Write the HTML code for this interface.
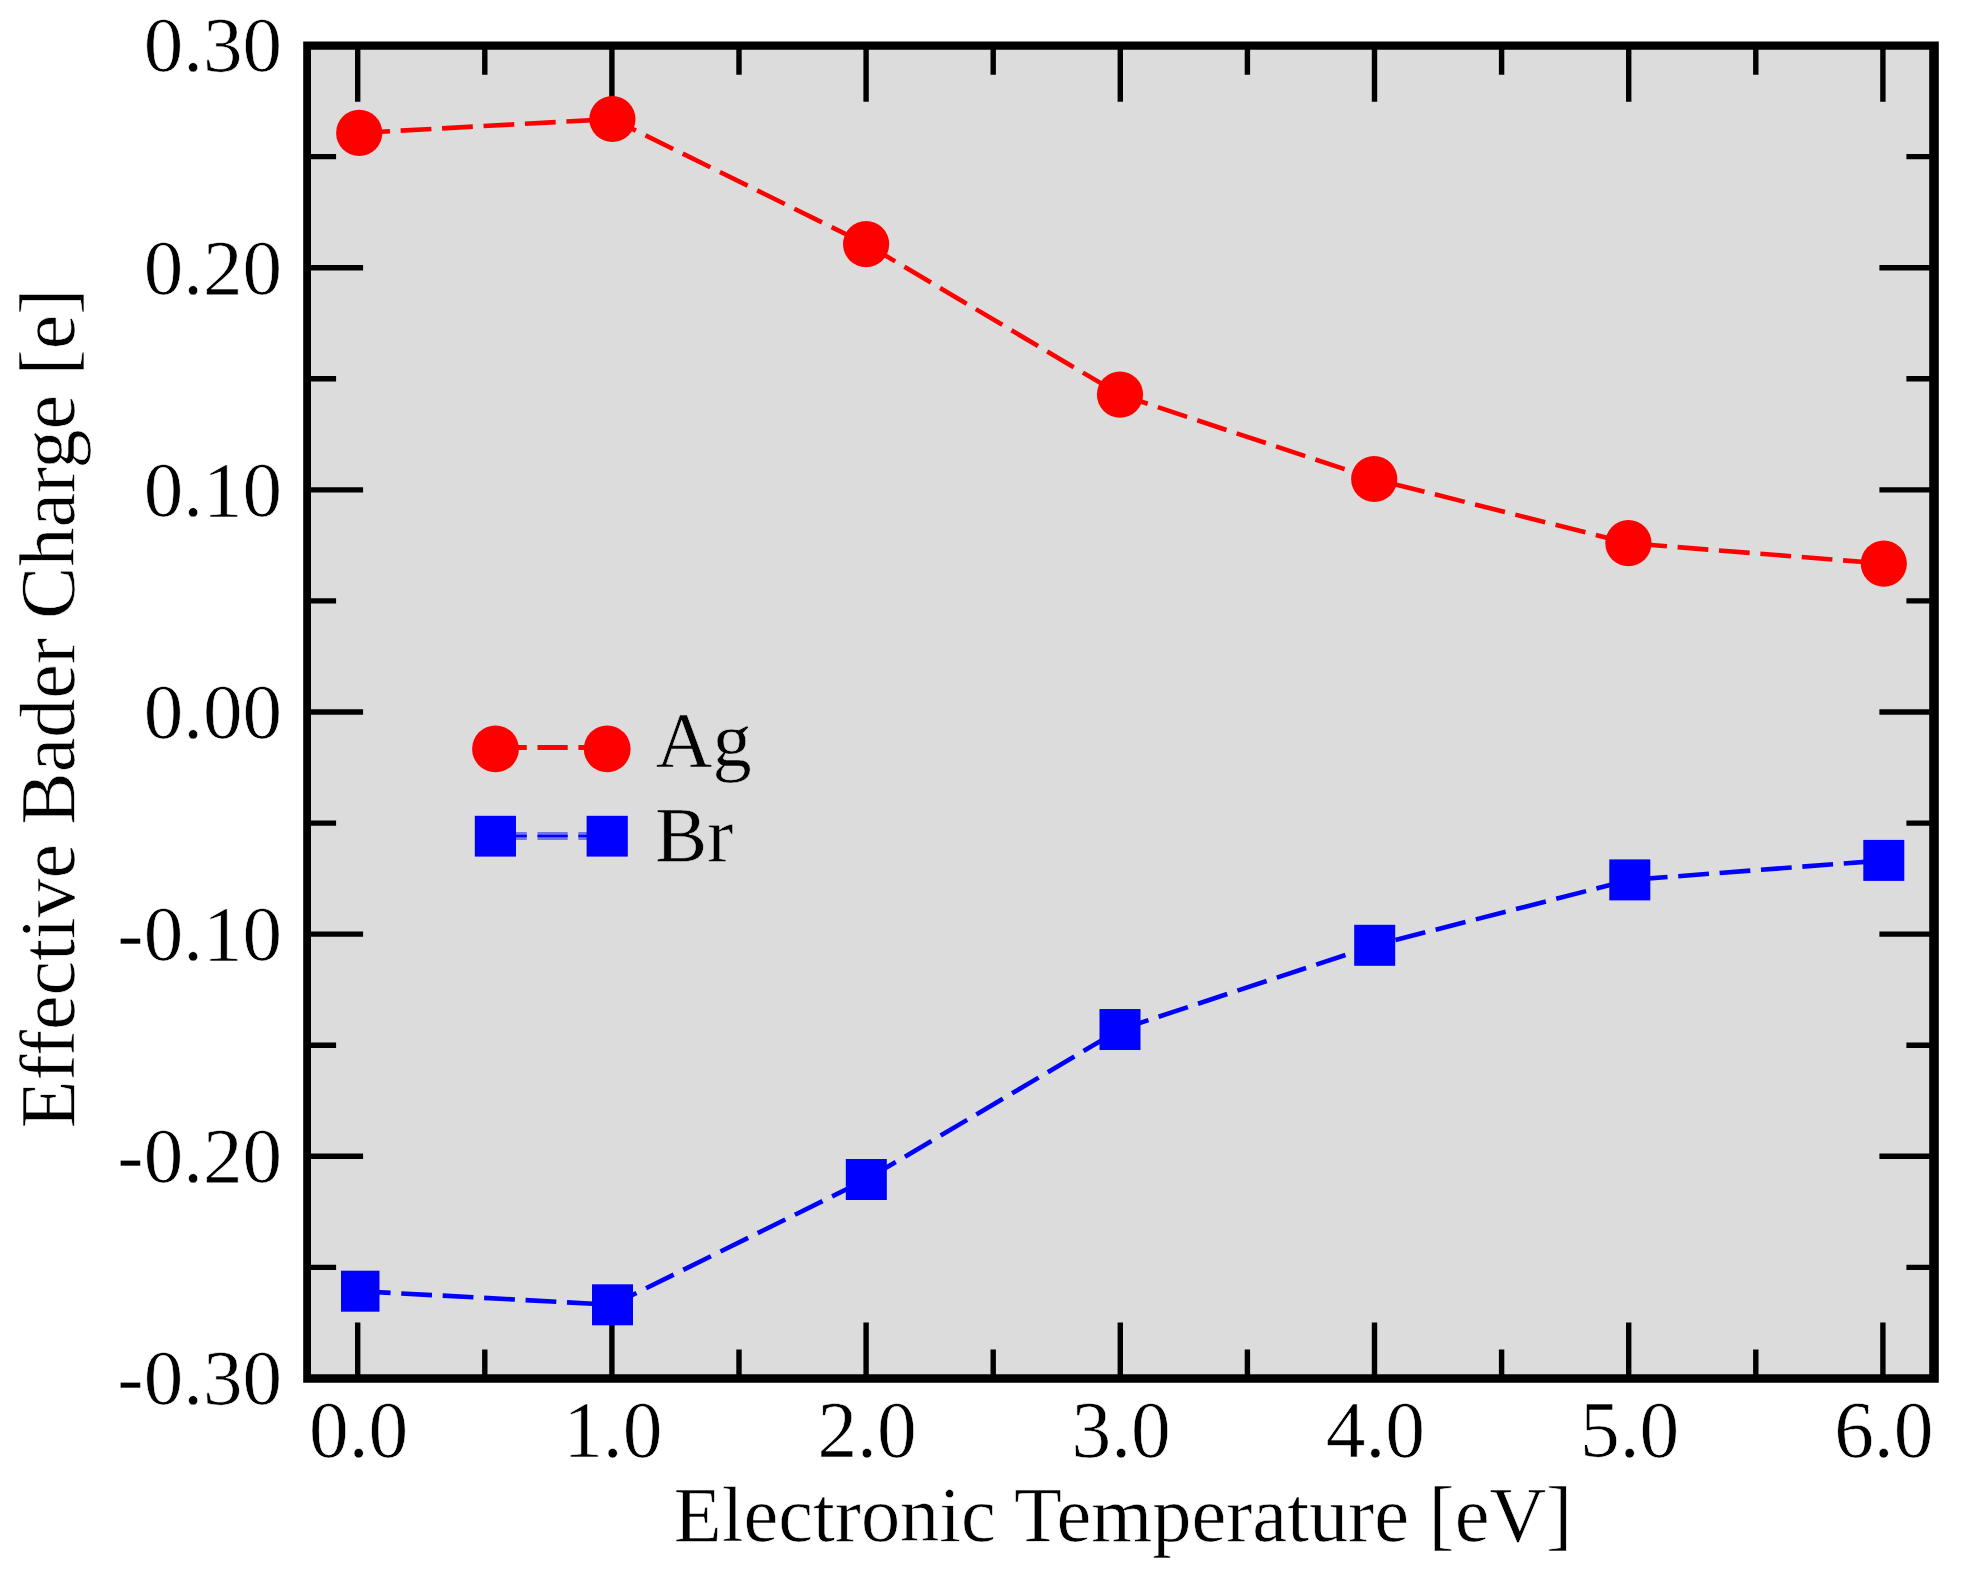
<!DOCTYPE html>
<html lang="en"><head><meta charset="utf-8"><title>Effective Bader Charge vs Electronic Temperature</title>
<style>html,body{margin:0;padding:0;background:#fff}body{width:1967px;height:1573px;overflow:hidden}svg{display:block}text{font-family:"Liberation Serif","Times New Roman",Times,serif;fill:#000;stroke:#fff;stroke-width:.6px}text.g{stroke:#dcdcdc}</style></head><body>
<svg width="1967" height="1573" viewBox="0 0 1967 1573">
<rect x="0" y="0" width="1967" height="1573" fill="#ffffff"/>
<rect x="307.1" y="45.7" width="1626.8" height="1332.9" fill="#dcdcdc"/>
<path d="M357.7 45.7V101.7M357.7 1378.6V1322.6M484.8 45.7V74.7M484.8 1378.6V1349.6M611.9 45.7V101.7M611.9 1378.6V1322.6M739.0 45.7V74.7M739.0 1378.6V1349.6M866.1 45.7V101.7M866.1 1378.6V1322.6M993.2 45.7V74.7M993.2 1378.6V1349.6M1120.3 45.7V101.7M1120.3 1378.6V1322.6M1247.4 45.7V74.7M1247.4 1378.6V1349.6M1374.5 45.7V101.7M1374.5 1378.6V1322.6M1501.6 45.7V74.7M1501.6 1378.6V1349.6M1628.7 45.7V101.7M1628.7 1378.6V1322.6M1755.8 45.7V74.7M1755.8 1378.6V1349.6M1882.9 45.7V101.7M1882.9 1378.6V1322.6M307.1 1378.5H363.1M1933.9 1378.5H1879.4M307.1 1267.4H336.1M1933.9 1267.4H1906.4M307.1 1156.3H363.1M1933.9 1156.3H1879.4M307.1 1045.2H336.1M1933.9 1045.2H1906.4M307.1 934.1H363.1M1933.9 934.1H1879.4M307.1 823.1H336.1M1933.9 823.1H1906.4M307.1 712.0H363.1M1933.9 712.0H1879.4M307.1 600.9H336.1M1933.9 600.9H1906.4M307.1 489.9H363.1M1933.9 489.9H1879.4M307.1 378.8H336.1M1933.9 378.8H1906.4M307.1 267.7H363.1M1933.9 267.7H1879.4M307.1 156.6H336.1M1933.9 156.6H1906.4M307.1 45.5H363.1M1933.9 45.5H1879.4" stroke="#000" stroke-width="5.4" fill="none"/>
<polyline points="359.2,132.9 612.4,119.0 866.1,244.1 1120.0,394.6 1374.2,479.0 1628.4,543.2 1883.8,563.6" fill="none" stroke="#ff0000" stroke-width="4.6" stroke-dashoffset="0" stroke-dasharray="30.8 10.7"/>
<circle cx="359.2" cy="132.9" r="23.1" fill="#ff0000"/>
<circle cx="612.4" cy="119.0" r="23.1" fill="#ff0000"/>
<circle cx="866.1" cy="244.1" r="23.1" fill="#ff0000"/>
<circle cx="1120.0" cy="394.6" r="23.1" fill="#ff0000"/>
<circle cx="1374.2" cy="479.0" r="23.1" fill="#ff0000"/>
<circle cx="1628.4" cy="543.2" r="23.1" fill="#ff0000"/>
<circle cx="1883.8" cy="563.6" r="23.1" fill="#ff0000"/>
<polyline points="359.8,1291.2 612.5,1304.8 866.3,1179.5 1120.0,1029.5 1374.7,945.3 1629.8,879.9 1883.8,860.4" fill="none" stroke="#0000ff" stroke-width="4.6" stroke-dashoffset="0" stroke-dasharray="30.8 10.7"/>
<rect x="341" y="1270.7" width="38.5" height="41" fill="#0000ff"/>
<rect x="592.0" y="1284.3" width="41" height="41" fill="#0000ff"/>
<rect x="845.8" y="1159.0" width="41" height="41" fill="#0000ff"/>
<rect x="1099.5" y="1009.0" width="41" height="41" fill="#0000ff"/>
<rect x="1354.2" y="924.8" width="41" height="41" fill="#0000ff"/>
<rect x="1609.3" y="859.4" width="41" height="41" fill="#0000ff"/>
<rect x="1863.3" y="839.9" width="41" height="41" fill="#0000ff"/>
<path d="M303.2 41.6H1938.8V1382.8H303.2ZM311 49.8V1374.2H1929.2V49.8Z" fill="#000" fill-rule="evenodd"/>
<path d="M495.5 747.5H607.2" stroke="#ff0000" stroke-width="5.2" stroke-dasharray="31.3 10.7 30.2 10.7 40" fill="none"/>
<circle cx="495.5" cy="748.9" r="23.4" fill="#ff0000"/><circle cx="607.2" cy="748.9" r="23.4" fill="#ff0000"/>
<path d="M495.5 836H607.2" stroke="#7474ea" stroke-width="8" stroke-dasharray="31.3 10.7 30.2 10.7 40" fill="none"/>
<path d="M495.5 836H607.2" stroke="#0000ff" stroke-width="2.7" stroke-dasharray="31.3 10.7 30.2 10.7 40" fill="none"/>
<rect x="474.8" y="815.8" width="41.2" height="40.8" fill="#0000ff"/><rect x="586.6" y="815.8" width="41.2" height="40.8" fill="#0000ff"/>
<text class="g" x="655.8" y="765.6" font-size="78.4">Ag</text>
<text class="g" x="654.9" y="861.3" font-size="78.4">Br</text>
<text x="281.9" y="1404.4" font-size="79.0" text-anchor="end">-0.30</text>
<text x="281.9" y="1182.2" font-size="79.0" text-anchor="end">-0.20</text>
<text x="281.9" y="960.0" font-size="79.0" text-anchor="end">-0.10</text>
<text x="281.9" y="737.9" font-size="79.0" text-anchor="end">0.00</text>
<text x="281.9" y="515.8" font-size="79.0" text-anchor="end">0.10</text>
<text x="281.9" y="293.6" font-size="79.0" text-anchor="end">0.20</text>
<text x="281.9" y="71.4" font-size="79.0" text-anchor="end">0.30</text>
<text x="358.6" y="1457.4" font-size="79.4" text-anchor="middle">0.0</text>
<text x="612.8" y="1457.4" font-size="79.4" text-anchor="middle">1.0</text>
<text x="867.0" y="1457.4" font-size="79.4" text-anchor="middle">2.0</text>
<text x="1121.2" y="1457.4" font-size="79.4" text-anchor="middle">3.0</text>
<text x="1375.4" y="1457.4" font-size="79.4" text-anchor="middle">4.0</text>
<text x="1629.6" y="1457.4" font-size="79.4" text-anchor="middle">5.0</text>
<text x="1883.8" y="1457.4" font-size="79.4" text-anchor="middle">6.0</text>
<text x="1123" y="1540.8" font-size="78.4" text-anchor="middle">Electronic Temperature [eV]</text>
<text transform="translate(73.8 708.5) rotate(-90)" font-size="78.0" text-anchor="middle">Effective Bader Charge [e]</text>
</svg></body></html>
